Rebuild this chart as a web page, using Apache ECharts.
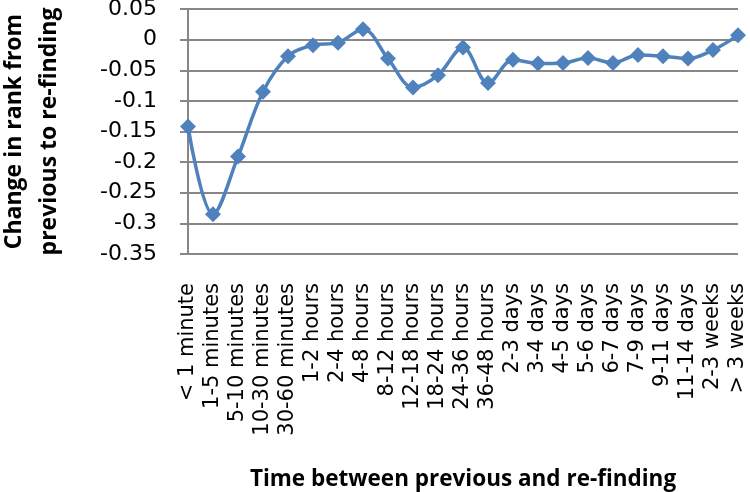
<!DOCTYPE html>
<html>
<head>
<meta charset="utf-8">
<script src="https://cdn.jsdelivr.net/npm/echarts@6/dist/echarts.min.js"></script>
<style>
html,body{margin:0;padding:0;background:#fff;}
#chart{width:750px;height:492px;}
</style>
</head>
<body>
<div id="chart"></div>
<script>
var categories = ['< 1 minute','1-5 minutes','5-10 minutes','10-30 minutes','30-60 minutes','1-2 hours','2-4 hours','4-8 hours','8-12 hours','12-18 hours','18-24 hours','24-36 hours','36-48 hours','2-3 days','3-4 days','4-5 days','5-6 days','6-7 days','7-9 days','9-11 days','11-14 days','2-3 weeks','> 3 weeks'];
var rankChange = [-0.142,-0.285,-0.191,-0.085,-0.027,-0.009,-0.005,0.017,-0.031,-0.078,-0.058,-0.013,-0.071,-0.033,-0.039,-0.038,-0.030,-0.038,-0.025,-0.027,-0.031,-0.017,0.007];
var yMin = -0.35, yMax = 0.05, yStep = 0.05;
var xTitle = 'Time between previous and re-finding';
var yTitle = 'Change in rank from\nprevious to re-finding';

var gray = '#878787';
var font = 'Open Sans';
var labelFont = 'DejaVu Sans';
var chart = echarts.init(document.getElementById('chart'), null, {renderer:'canvas'});
chart.setOption({
  animation: false,
  backgroundColor: '#fff',
  grid: {left:188, right:12, top:9, bottom:238, containLabel:false, outerBoundsMode:'none'},
  xAxis: {
    type: 'category',
    data: categories,
    boundaryGap: false,
    axisLine: {show:true, lineStyle:{color:gray, width:2}},
    axisTick: {show:false},
    splitLine: {show:false},
    axisLabel: {rotate:90, margin:29, interval:0, color:'#000', fontFamily:labelFont, fontSize:21},
    name: xTitle,
    nameLocation: 'middle',
    nameGap: 214,
    nameTextStyle: {color:'#000', fontFamily:font, fontSize:22.5, fontWeight:'bold'}
  },
  yAxis: {
    type: 'value',
    min: yMin, max: yMax, interval: yStep,
    axisLine: {show:true, lineStyle:{color:gray, width:2}},
    axisTick: {show:true, length:8, lineStyle:{color:gray, width:2}},
    splitLine: {show:true, lineStyle:{color:gray, width:2}},
    axisLabel: {
      margin: 31, color:'#000', fontFamily:labelFont, fontSize:22,
      formatter: function(v){ return String(parseFloat(v.toFixed(2))); }
    },
    name: yTitle,
    nameLocation: 'middle',
    nameRotate: 90,
    nameGap: 121,
    nameTextStyle: {color:'#000', fontFamily:font, fontSize:23, fontWeight:'bold', lineHeight:35}
  },
  series: [{
    type: 'line',
    data: rankChange,
    smooth: 0.35,
    symbol: 'diamond',
    symbolSize: 16,
    itemStyle: {color:'#4F81BD'},
    lineStyle: {color:'#4F81BD', width:3.5}
  }]
});
</script>
</body>
</html>
